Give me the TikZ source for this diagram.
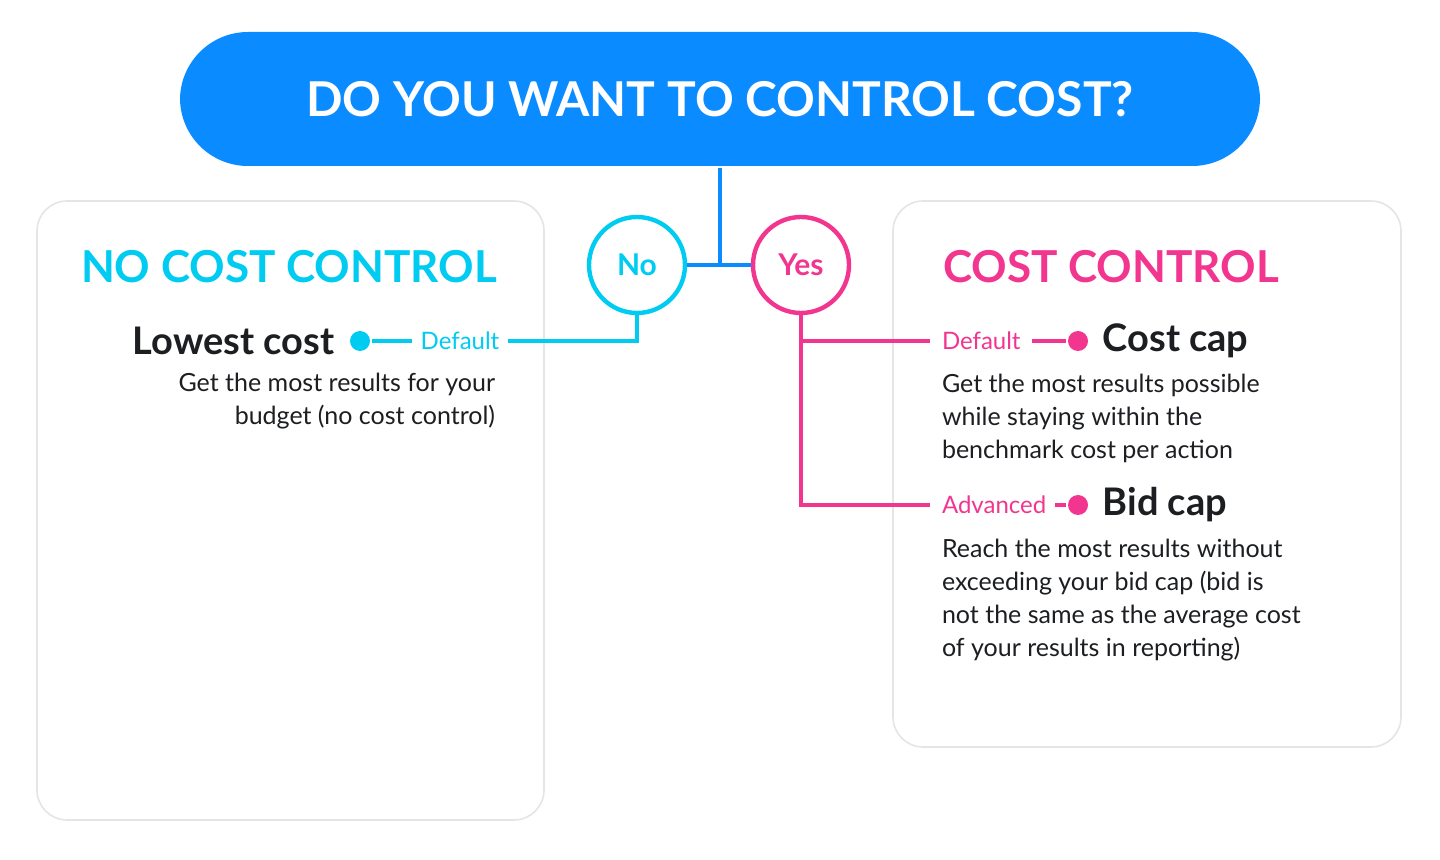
\documentclass[tikz,border=0pt]{standalone}
\usepackage{fontspec}
\setmainfont{Lato}
\usetikzlibrary{positioning}
\definecolor{titleblue}{HTML}{0A8BFF}
\definecolor{nocyan}{HTML}{00CCF2}
\definecolor{yespink}{HTML}{F2358F}
\definecolor{darktext}{HTML}{1C1E21}
\begin{document}
\begin{tikzpicture}[x=0.5pt,y=-0.5pt,line width=2pt,
    card/.style={draw=black!10,line width=0.8pt,fill=white,rounded corners=15pt},
    answer/.style={circle,draw,line width=2.2pt,minimum size=48pt,inner sep=0pt,font=\bfseries\fontsize{15}{18}\selectfont},
    heading/.style={anchor=base west,inner sep=0pt,font=\bfseries\fontsize{22}{26}\selectfont},
    choice/.style={font=\bfseries\fontsize{19}{22}\selectfont,text=darktext},
    tag/.style={font=\fontsize{12}{14}\selectfont},
    desc/.style={anchor=north west,align=left,font=\fontsize{12.5}{16.5}\selectfont,text=darktext,inner sep=0pt},
    dot/.style={circle,fill,inner sep=0pt,minimum size=10pt}]
\useasboundingbox (0,0) rectangle (1440,860);
\fill[white] (0,0) rectangle (1440,860);
% cards
\draw[card] (37,201) rectangle (544,820);
\draw[card] (893,201) rectangle (1401,747);
% question
\node (question) [fill=titleblue,rounded corners=34pt,minimum width=540pt,minimum height=67pt,
    text=white,font=\bfseries\fontsize{24}{28}\selectfont] at (720,99) {DO YOU WANT TO CONTROL COST?};
\node (no) [answer,draw=nocyan,text=nocyan,fill=white] at (637,265) {No};
\node (yes) [answer,draw=yespink,text=yespink,fill=white] at (801,265) {Yes};
\coordinate (fork) at (720,265);
\draw[titleblue] (question.south -| fork) -- (fork);
\draw[titleblue] (no) -- (yes);
% no cost control
\node[heading,text=nocyan] (noHead) at (79,283) {NO COST CONTROL};
\node[tag,text=nocyan] (noTag) at (460,341) {Default};
\node[dot,text=nocyan,fill=nocyan] (noDot) at (360,341) {};
\node[choice,anchor=east] (lowest) at (343,341) {Lowest cost};
\draw[nocyan] (no.south) -- (637,341) -- (noTag.east);
\draw[nocyan] (noTag.west) -- (noDot);
\node[desc,align=right,anchor=north east] (lowestDesc) at (497,371) {Get the most results for your\\budget (no cost control)};
% cost control
\node[heading,text=yespink] (yesHead) at (941,283) {COST CONTROL};
\node[tag,text=yespink,anchor=west,inner sep=0pt] (capTag) at (940,341) {Default};
\node[tag,text=yespink,anchor=west,inner sep=0pt] (bidTag) at (940,505) {Advanced};
\node[dot,fill=yespink] (capDot) at (1078,341) {};
\node[dot,fill=yespink] (bidDot) at (1078,505) {};
\node[choice,anchor=west] (costCap) at (1094,341) {Cost cap};
\node[choice,anchor=west] (bidCap) at (1094,505) {Bid cap};
\draw[yespink] (yes.south) -- (801,505) -- (930,505);
\draw[yespink] (801,341) -- (930,341);
\draw[yespink] (1032,341) -- (capDot);
\draw[yespink] (1055,505) -- (bidDot);
\node[desc] (capDesc) at (940,372) {Get the most results possible\\while staying within the\\benchmark cost per action};
\node[desc] (bidDesc) at (940,537) {Reach the most results without\\exceeding your bid cap (bid is\\not the same as the average cost\\of your results in reporting)};
\end{tikzpicture}
\end{document}
